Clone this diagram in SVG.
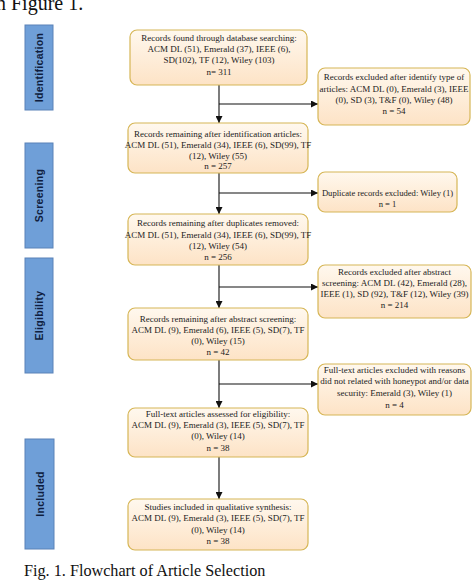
<svg xmlns="http://www.w3.org/2000/svg" width="474" height="582" viewBox="0 0 474 582">
<defs>
<linearGradient id="boxfill" x1="0" y1="0" x2="0" y2="1">
<stop offset="0" stop-color="#fff8ee"/>
<stop offset="1" stop-color="#fde3c6"/>
</linearGradient>
<marker id="arr" viewBox="0 0 10 10" refX="10" refY="5" markerWidth="7" markerHeight="7" orient="auto" markerUnits="userSpaceOnUse">
<path d="M0,0 L10,5 L0,10 z" fill="#111"/>
</marker>
</defs>
<style>
.box{fill:url(#boxfill);stroke:#d6b656;stroke-width:1.2}
.t{font-family:"Liberation Serif","Times New Roman",serif;font-size:9px;fill:#222;text-anchor:middle}
.bar{fill:#6f9fd8;stroke:#5a82b8;stroke-width:1}
.bt{font-family:"Liberation Sans",Arial,sans-serif;font-size:10.5px;font-weight:bold;fill:#0f1e40;text-anchor:middle;letter-spacing:0.3px}
.c{fill:none;stroke:#111;stroke-width:1.1;marker-end:url(#arr)}
.cap{font-family:"Liberation Serif","Times New Roman",serif;fill:#111}
</style>
<rect width="474" height="582" fill="#fff"/>
<text class="cap" x="-4" y="10" font-size="20">n Figure 1.</text>

<g id="stage-identification"><rect class="bar" x="25" y="25" width="28" height="85"/><text class="bt" transform="translate(43,67.5) rotate(-90)">Identification</text></g>
<g id="stage-screening"><rect class="bar" x="25" y="143" width="28" height="105"/><text class="bt" transform="translate(43,195.5) rotate(-90)">Screening</text></g>
<g id="stage-eligibility"><rect class="bar" x="25" y="258" width="28" height="115"/><text class="bt" transform="translate(43,315.5) rotate(-90)">Eligibility</text></g>
<g id="stage-included"><rect class="bar" x="25" y="439" width="29" height="110"/><text class="bt" transform="translate(43.5,494) rotate(-90)">Included</text></g>

<g id="connectors">
<path class="c" d="M219,85 V123"/>
<path class="c" d="M219,104 H318"/>
<path class="c" d="M219,173 V214"/>
<path class="c" d="M219,193 H318"/>
<path class="c" d="M219,265 V308"/>
<path class="c" d="M219,287 H318"/>
<path class="c" d="M219,360 V408"/>
<path class="c" d="M219,384 H318"/>
<path class="c" d="M219,457 V499"/>
</g>

<g id="found"><rect class="box" x="130" y="30" width="177" height="55" rx="7"/>
<text class="t" x="219" y="41">Records found through database searching:</text>
<text class="t" x="219" y="52">ACM DL (51), Emerald (37), IEEE (6),</text>
<text class="t" x="219" y="63">SD(102), TF (12), Wiley (103)</text>
<text class="t" x="219" y="75">n= 311</text></g>

<g id="excluded-type"><rect class="box" x="318" y="68" width="152" height="57" rx="7"/>
<text class="t" x="394" y="80">Records excluded after identify type of</text>
<text class="t" x="394" y="92">articles: ACM DL (0), Emerald (3), IEEE</text>
<text class="t" x="394" y="103">(0), SD (3), T&amp;F (0), Wiley (48)</text>
<text class="t" x="394" y="114">n = 54</text></g>

<g id="remaining-identification"><rect class="box" x="128" y="123" width="180" height="50" rx="7"/>
<text class="t" x="218" y="137">Records remaining after identification articles:</text>
<text class="t" x="218" y="148">ACM DL (51), Emerald (34), IEEE (6), SD(99), TF</text>
<text class="t" x="218" y="159">(12), Wiley (55)</text>
<text class="t" x="218" y="169">n = 257</text></g>

<g id="duplicates"><rect class="box" x="318" y="172" width="139" height="40" rx="7"/>
<text class="t" x="387.5" y="196" style="font-size:8.6px">Duplicate records excluded: Wiley (1)</text>
<text class="t" x="387.5" y="207" style="font-size:8.6px">n = 1</text></g>

<g id="remaining-duplicates"><rect class="box" x="128" y="214" width="180" height="51" rx="7"/>
<text class="t" x="218" y="226">Records remaining after duplicates removed:</text>
<text class="t" x="218" y="238">ACM DL (51), Emerald (34), IEEE (6), SD(99), TF</text>
<text class="t" x="218" y="249">(12), Wiley (54)</text>
<text class="t" x="218" y="260">n = 256</text></g>

<g id="excluded-abstract"><rect class="box" x="318" y="265" width="153" height="53" rx="7"/>
<text class="t" x="394.5" y="275">Records excluded after abstract</text>
<text class="t" x="394.5" y="286">screening:  ACM DL (42), Emerald (28),</text>
<text class="t" x="394.5" y="297">IEEE (1), SD (92), T&amp;F (12), Wiley (39)</text>
<text class="t" x="394.5" y="308">n = 214</text></g>

<g id="remaining-abstract"><rect class="box" x="128" y="308" width="180" height="52" rx="7"/>
<text class="t" x="218" y="322">Records remaining after abstract screening:</text>
<text class="t" x="218" y="333">ACM DL (9), Emerald (6), IEEE (5), SD(7), TF</text>
<text class="t" x="218" y="344">(0), Wiley (15)</text>
<text class="t" x="218" y="355">n = 42</text></g>

<g id="excluded-fulltext"><rect class="box" x="318" y="364" width="153" height="51" rx="7"/>
<text class="t" x="394.5" y="373">Full-text articles excluded with reasons</text>
<text class="t" x="394.5" y="384">did not related with honeypot and/or data</text>
<text class="t" x="394.5" y="396">security: Emerald (3), Wiley (1)</text>
<text class="t" x="394.5" y="408">n = 4</text></g>

<g id="assessed"><rect class="box" x="128" y="408" width="180" height="49" rx="7"/>
<text class="t" x="218" y="417">Full-text articles assessed for eligibility:</text>
<text class="t" x="218" y="428">ACM DL (9), Emerald (3), IEEE (5), SD(7), TF</text>
<text class="t" x="218" y="439">(0), Wiley (14)</text>
<text class="t" x="218" y="451">n = 38</text></g>

<g id="included"><rect class="box" x="128" y="499" width="180" height="51" rx="7"/>
<text class="t" x="218" y="510">Studies included in qualitative synthesis:</text>
<text class="t" x="218" y="521">ACM DL (9), Emerald (3), IEEE (5), SD(7), TF</text>
<text class="t" x="218" y="533">(0), Wiley (14)</text>
<text class="t" x="218" y="544">n = 38</text></g>

<text class="cap" x="24" y="576" font-size="16.2">Fig. 1. Flowchart of Article Selection</text>
</svg>
